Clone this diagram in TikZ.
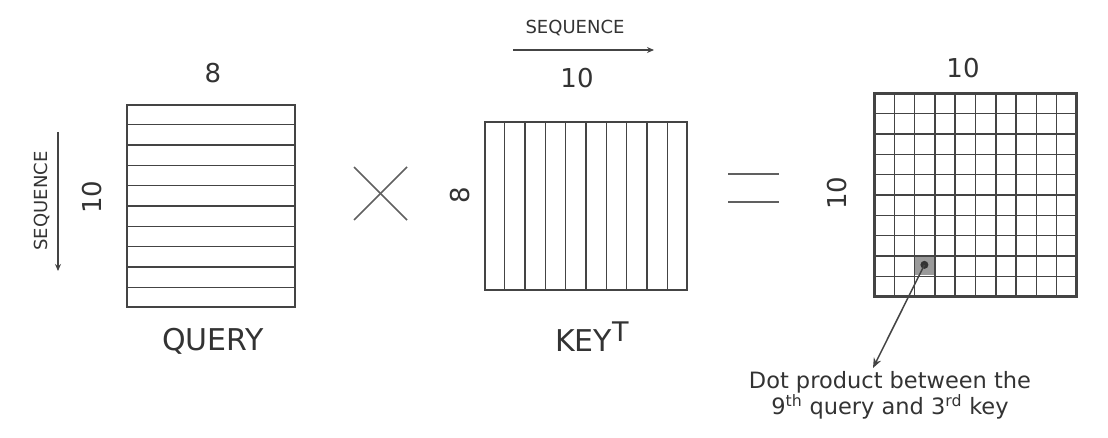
\documentclass[tikz,border=0pt]{standalone}
\usepackage{fontspec}
\setmainfont{DejaVu Sans}
\usetikzlibrary{calc,arrows.meta}
\definecolor{ink}{HTML}{333333}
\definecolor{linec}{HTML}{444444}
\definecolor{cellc}{HTML}{9A9A9A}
\tikzset{
  mat/.style={draw=linec, line width=1.7pt, inner sep=0pt, fill=white},
  gridl/.style={draw=linec, line width=1.5pt},
  dimlab/.style={text=ink, font=\fontsize{26}{28}\selectfont, inner sep=0pt},
  biglab/.style={text=ink, font=\fontsize{30}{32}\selectfont, inner sep=0pt},
  seqlab/.style={text=ink, font=\fontsize{18}{20}\selectfont, inner sep=0pt},
  seqarrow/.style={draw=linec, line width=1.5pt, -{Stealth[length=7pt,width=6pt]}},
  oper/.style={draw=linec!85, line width=1.7pt},
}
\begin{document}
\begin{tikzpicture}[x=1pt,y=-1pt]
\useasboundingbox (0,0) rectangle (1108,438);
% QUERY
\node[mat, minimum width=168pt, minimum height=202pt] (Q) at (211,206) {};
\foreach \i in {1,...,9}
  \draw[gridl] ($(Q.north west)!\i/10!(Q.south west)$) -- ($(Q.north east)!\i/10!(Q.south east)$);
\node[dimlab] (q8) at (213,73) {8};
\node[dimlab, rotate=90] (q10) at (92,197) {10};
\node[seqlab, rotate=90] (qseq) at (42,201) {SEQUENCE};
\coordinate (qa1) at (58,132);
\coordinate (qa2) at (58,271);
\draw[seqarrow] (qa1) -- (qa2);
\node[biglab] (qlab) at (213,341) {QUERY};
% cross
\coordinate (c1) at (354,167); \coordinate (c2) at (407,220);
\coordinate (c3) at (354,220); \coordinate (c4) at (407,167);
\draw[oper] (c1) -- (c2);
\draw[oper] (c3) -- (c4);
% KEY^T
\node[mat, minimum width=202pt, minimum height=168pt] (K) at (586,206) {};
\foreach \i in {1,...,9}
  \draw[gridl] ($(K.north west)!\i/10!(K.north east)$) -- ($(K.south west)!\i/10!(K.south east)$);
\node[dimlab, rotate=90] (k8) at (460,195) {8};
\node[dimlab] (k10) at (577,78) {10};
\node[seqlab] (kseq) at (575,28) {SEQUENCE};
\coordinate (ka1) at (513,50);
\coordinate (ka2) at (654,50);
\draw[seqarrow] (ka1) -- (ka2);
\node[biglab, anchor=base] (klab) at (592,351) {KEY\raisebox{10pt}{\fontsize{27}{28}\selectfont T}};
% equals
\coordinate (e1) at (728,174); \coordinate (e2) at (779,174);
\coordinate (e3) at (728,202); \coordinate (e4) at (779,202);
\draw[oper] (e1) -- (e2);
\draw[oper] (e3) -- (e4);
% result
\node[mat, minimum width=201pt, minimum height=202pt] (R) at (975.5,195) {};
\fill[cellc] ($(R.north west)+(40.2,161.6)$) rectangle ($(R.north west)+(60.3,181.8)$);
\foreach \i in {1,...,9} {
  \draw[gridl] ($(R.north west)!\i/10!(R.north east)$) -- ($(R.south west)!\i/10!(R.south east)$);
  \draw[gridl] ($(R.north west)!\i/10!(R.south west)$) -- ($(R.north east)!\i/10!(R.south east)$);
}
\draw[draw=linec, line width=1.7pt] (R.north west) rectangle (R.south east);
\node[dimlab] (r10a) at (963,68) {10};
\node[dimlab, rotate=90] (r10b) at (837,193) {10};
\coordinate (dot) at ($(R.north west)+(50.25,171.7)$);
\fill[ink] (dot) circle (4pt);
\coordinate (tip) at (873,368);
\draw[draw=linec, line width=1.5pt, -{Stealth[length=10pt,width=8pt]}] (dot) -- (tip);
\node[text=ink, font=\fontsize{22.5}{24}\selectfont, align=center, inner sep=0pt, anchor=base] (lbl) at (890,414)
  {Dot product between the\\9\textsuperscript{th} query and 3\textsuperscript{rd} key};
\end{tikzpicture}
\end{document}
